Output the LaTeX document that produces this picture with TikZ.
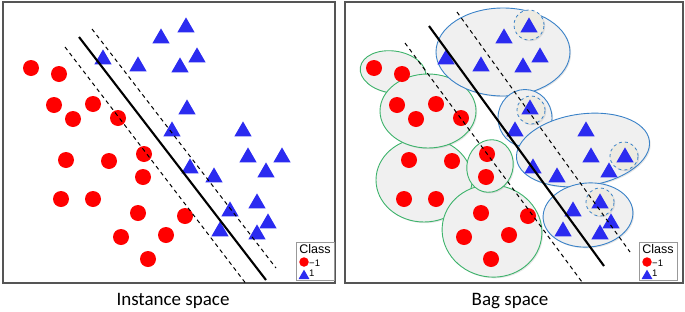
\documentclass[tikz,border=0pt]{standalone}
\usepackage{fontspec}
\setmainfont{Carlito}
\newfontfamily\legendfont{Liberation Sans}
\usetikzlibrary{shapes.geometric, shadows}
\definecolor{cneg}{HTML}{FF0000}
\definecolor{cpos}{HTML}{2B2BF0}
\definecolor{cbagn}{HTML}{3DB36B}
\definecolor{cbagp}{HTML}{3A82C8}
\definecolor{cbag}{HTML}{F0F0F0}
\definecolor{cwit}{HTML}{EDEBE2}
\definecolor{cframe}{HTML}{555555}
\definecolor{cleg}{HTML}{999999}

\begin{document}
\begin{tikzpicture}[
  x=1pt, y=-1pt,
  neginst/.style={circle, fill=cneg, inner sep=0pt, minimum size=16pt},
  posinst/.style={regular polygon, regular polygon sides=3, fill=cpos,
              inner sep=0pt, minimum size=20pt, yshift=-2.4pt},
  legneg/.style={neginst, minimum size=9.5pt},
  legpos/.style={posinst, minimum size=12.5pt, yshift=-1.5pt},
  bag/.style={ellipse, fill=cbag, inner sep=0pt, line width=0.9pt,
              drop shadow={opacity=0.2, shadow xshift=1.2pt, shadow yshift=-1.2pt}},
  negbag/.style={bag, draw=cbagn},
  posbag/.style={bag, draw=cbagp},
  wit/.style={circle, fill=cwit, draw=cbagp, dashed, inner sep=0pt, line width=0.8pt,
              drop shadow={opacity=0.2, shadow xshift=1.2pt, shadow yshift=-1.2pt}},
  panel/.style={draw=cframe, line width=1.3pt},
  legbox/.style={draw=cleg, fill=white, line width=0.8pt, minimum width=38pt,
                 minimum height=38pt, inner sep=0pt},
  legtxt/.style={font=\legendfont\fontsize{9.5}{10}\selectfont, inner sep=0pt, anchor=west},
  sep/.style={line width=2.1pt},
  margin/.style={dashed, line width=1pt, dash pattern=on 4pt off 3.5pt},
  caption/.style={font=\fontsize{19}{22}\selectfont, inner sep=0pt},
]
\useasboundingbox (0,0) rectangle (685,311);
% Panels
\draw[panel] (3,2) rectangle (335,283);
\draw[panel] (345,2) rectangle (683,283);
% Bags (bag space)
\foreach \nm/\x/\y/\w/\h/\r in {
  nbagA/393/72/66/42/-8,
  nbagC/424/180/96/84/0,
  nbagB/428/111/96/74/0,
  nbagE/492/231/100/92/-10,
  nbagD/490/166/46/53/-15%
}{
  \node[negbag, minimum width=\w, minimum height=\h, rotate=\r] (\nm) at (\x,\y) {};
}
\foreach \nm/\x/\y/\w/\h/\r in {
  pbagA/503/52/134/88/0,
  pbagB/525/118/54/57/0,
  pbagC/583/150/134/72/8,
  pbagD/588/215/90/64/5%
}{
  \node[posbag, minimum width=\w, minimum height=\h, rotate=\r] (\nm) at (\x,\y) {};
}
% Witness instances
\foreach \nm/\x/\y/\d in {witA/529/25/30, witB/531/110/28, witC/624/156/28, witD/600/202/28}{
  \node[wit, minimum size=\d] (\nm) at (\x,\y) {};
}
% Instances, same points in both panels
\foreach \p/\dx in {I/0, B/343}{
  \foreach \x/\y [count=\i] in {31/68, 59/74, 54/105, 93/104, 73/119, 118/118,
      66/160, 109/161, 144/154, 143/177, 61/199, 93/199, 138/213, 185/216,
      121/237, 166/235, 148/259}{
    \node[neginst] (\p neg\i) at (\x+\dx,\y) {};
  }
  \foreach \x/\y [count=\i] in {186/25, 161/36, 197/55, 103/57, 138/64, 180/65,
      187/107, 172/129, 243/129, 248/155, 282/155, 190/166, 214/175, 266/170,
      257/201, 230/209, 268/221, 220/229, 257/232}{
    \node[posinst] (\p pos\i) at (\x+\dx,\y) {};
  }
  % Legend
  \node[legbox] (\p leg) at (315+\dx,261) {};
  \node[font=\legendfont\fontsize{12.5}{13}\selectfont, inner sep=0pt] (\p legT) at (315+\dx,249) {Class};
  \node[legneg] (\p legN) at (304+\dx,262) {};
  \node[legtxt] (\p legNt) at (309+\dx,263) {−1};
  \node[legpos] (\p legP) at (304+\dx,272) {};
  \node[legtxt] (\p legPt) at (309+\dx,273) {1};
}
% Separating hyperplanes and margins
\coordinate (sepI1) at (79,37);   \coordinate (sepI2) at (266,280);
\coordinate (lowI1) at (65,47);   \coordinate (lowI2) at (247,285);
\coordinate (upI1) at (92,29);    \coordinate (upI2) at (276,268);
\coordinate (sepB1) at (429,26);  \coordinate (sepB2) at (604,266);
\coordinate (lowB1) at (405,43);  \coordinate (lowB2) at (582,282);
\coordinate (upB1) at (457,12);   \coordinate (upB2) at (630,252);
\draw[sep] (sepI1) -- (sepI2);
\draw[margin] (lowI1) -- (lowI2);
\draw[margin] (upI1) -- (upI2);
\draw[sep] (sepB1) -- (sepB2);
\draw[margin] (lowB1) -- (lowB2);
\draw[margin] (upB1) -- (upB2);
% Captions
\node[caption] (capI) at (173,301) {Instance space};
\node[caption] (capB) at (510,301) {Bag space};
\end{tikzpicture}
\end{document}
